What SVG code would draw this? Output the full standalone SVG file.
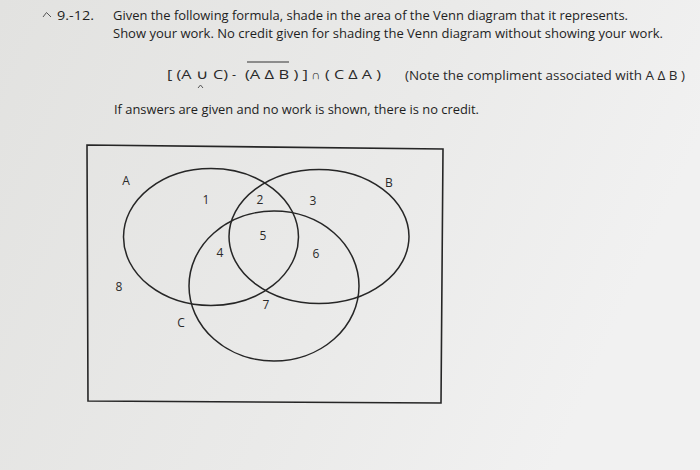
<svg xmlns="http://www.w3.org/2000/svg" width="700" height="470" viewBox="0 0 700 470">
<defs>
<linearGradient id="paper" x1="0" y1="0" x2="1" y2="0.3">
<stop offset="0" stop-color="#e2e2e0"/>
<stop offset="0.6" stop-color="#eaeae9"/>
<stop offset="1" stop-color="#f1f1f1"/>
</linearGradient>
<style>
.t{font-family:"Open Sans","Liberation Sans",sans-serif;font-size:13.5px;fill:#1e1e1e}
.f{font-family:"Open Sans","Liberation Sans",sans-serif;font-size:12.5px;fill:#2a2a2a}
.n{font-family:"Open Sans","Liberation Sans",sans-serif;font-size:12px;fill:#2a2a2a;text-anchor:middle}
.c{fill:none;stroke:#262626;stroke-width:1.5}
.pen{fill:none;stroke:#555;stroke-width:1}
</style>
</defs>
<rect width="700" height="470" fill="url(#paper)"/>
<g id="header">
<polyline class="pen" points="43,17 46.5,12.5 51,17"/>
<text class="t" x="57" y="20" textLength="37" lengthAdjust="spacingAndGlyphs">9.-12.</text>
<text class="t" x="113" y="20" textLength="515" lengthAdjust="spacingAndGlyphs">Given the following formula, shade in the area of the Venn diagram that it represents.</text>
<text class="t" x="113" y="38" textLength="550" lengthAdjust="spacingAndGlyphs">Show your work.  No credit given for shading the Venn diagram without showing your work.</text>
</g>
<g id="formula">
<text class="f" x="167" y="79" textLength="61" lengthAdjust="spacingAndGlyphs">[ (A ∪ C)</text>
<text class="f" x="232" y="79">-</text>
<text class="f" x="245" y="79" textLength="63" lengthAdjust="spacingAndGlyphs">(A Δ B ) ]</text>
<text class="f" x="311" y="79">∩</text>
<text class="f" x="325" y="79" textLength="56" lengthAdjust="spacingAndGlyphs">( C Δ A )</text>
<line x1="247" y1="62" x2="289" y2="62" stroke="#333" stroke-width="1.2"/>
<polyline class="pen" points="198,88 200.5,85 203,88"/>
<text class="f" x="405" y="80" textLength="280" lengthAdjust="spacingAndGlyphs">(Note the compliment associated with A  Δ  B  )</text>
</g>
<g id="note">
<text class="t" x="114" y="114" textLength="365" lengthAdjust="spacingAndGlyphs">If answers are given and no work is shown, there is no credit.</text>
</g>
<g id="universe">
<polygon points="87,145 443,149 441,403 88,401" fill="none" stroke="#262626" stroke-width="1.6"/>
<text class="n" x="119" y="291">8</text>
</g>
<g id="setA">
<ellipse class="c" cx="211" cy="237" rx="87.5" ry="68.5"/>
<text class="n" x="126" y="185">A</text>
</g>
<g id="setB">
<ellipse class="c" cx="319" cy="236.5" rx="90" ry="67"/>
<text class="n" x="389" y="187">B</text>
</g>
<g id="setC">
<ellipse class="c" cx="274" cy="286" rx="85" ry="75"/>
<text class="n" x="181" y="327">C</text>
</g>
<g id="regions">
<text class="n" x="206" y="204">1</text>
<text class="n" x="260" y="204">2</text>
<text class="n" x="313" y="205">3</text>
<text class="n" x="220" y="257">4</text>
<text class="n" x="263" y="240">5</text>
<text class="n" x="316" y="258">6</text>
<text class="n" x="266" y="309">7</text>
</g>
</svg>
